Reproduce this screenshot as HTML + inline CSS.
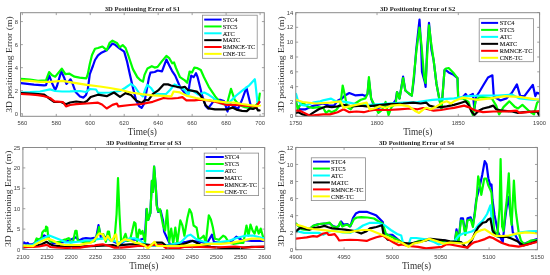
<!DOCTYPE html>
<html><head><meta charset="utf-8"><title>3D Positioning Error</title>
<style>html,body{margin:0;padding:0;background:#fff;width:550px;height:275px;overflow:hidden}svg{display:block}</style>
</head><body>
<svg width="550" height="275" viewBox="0 0 550 275">
<rect width="550" height="275" fill="#fff"/>
<clipPath id="cS1"><rect x="20.5" y="12.7" width="243.8" height="103.6"/></clipPath>
<clipPath id="cS2"><rect x="295.75" y="12.7" width="243.85" height="103.6"/></clipPath>
<clipPath id="cS3"><rect x="22.9" y="147.5" width="241.8" height="102"/></clipPath>
<clipPath id="cS4"><rect x="295.75" y="147.5" width="241.65" height="102.2"/></clipPath>
<g clip-path="url(#cS1)" fill="none" stroke-width="2.2" stroke-linejoin="round" stroke-linecap="round">
<polyline stroke="#0000ff" points="21,83.2 34,84.6 44,85.4 46,85.2 49.3,75.5 52.1,83.3 55.2,90 57,86 61.3,71.1 64.4,78.3 66.4,83.9 70.5,79.3 72.5,83.3 75.6,92 80,96.5 83.5,97.6 86,95 87.8,89.5 89.8,74.2 92.9,66 95,60 98,55.3 100.9,53.1 106.7,50.2 112.5,43.6 115.5,45.1 119.8,48.7 124.2,51.6 127.1,61.8 130,74.9 133,88 136,100 139,106 141.6,107.8 144,104 146,94 148.9,78 150.4,72.7 154.7,72 157.6,70.5 162,71.3 166.4,59.6 169.3,65.5 172,70.8 175.2,75.6 180,86.8 184.8,93.2 188,95.6 189.6,83.6 191.2,75.6 193.6,77.2 196,73.2 197.6,77.2 200,86.8 202.4,96.4 205.6,106 208,108.5 211.2,104.4 214.4,99.8 220.2,99.8 224,101 227.5,111.5 229.5,103 233,106 238,108.8 242,100 246.4,87.6 251,106.8 253,108.5 256,106 259.5,102"/>
<polyline stroke="#00ff00" points="21,78.8 30,79.5 38,80.8 46,80.4 49.1,72.1 52.1,75.2 55.2,76.7 61.8,68.6 65.4,74.2 69.5,73.7 74.5,76.7 79.6,77.7 86.3,78.3 87.8,74.2 89.8,64 92,55 95,48.7 98,48 102.4,46.5 106.7,50.2 109.6,42.9 112.5,40.7 116.9,42.9 119.8,47.3 122.7,45.1 125.6,48 128.5,56 132.9,69.1 137.3,77.1 140.2,80 143,81.6 144.5,74.9 147.5,68.4 151.8,66.2 154.7,67.6 157.6,66.9 162,61.1 166.4,56 169.3,58.2 172.2,63.3 174,62.5 176,68 180,77.2 184.8,80.4 187.2,82.8 189.6,71.6 192,72.4 194.4,67.6 197,68 200.8,70 204,77.2 208.8,86.8 215.2,96.4 219,101 223.1,104.2 227,104 231,88.8 234.7,99.8 239.1,104.9 244.9,107.1 252.2,108.5 256.5,104.9 258.6,102 259.8,93.6"/>
<polyline stroke="#00ffff" points="21,92.5 30,92.2 40,91.5 50.1,89.4 55,91 62,91.5 70,91.4 80,91 86,92 90,89 96,89.5 98,92.8 110,92.5 120,91 125,88 130.9,83.8 135,87 139,93 142.9,96.4 145,90 147.3,84.9 151,88 154.9,93.6 160,94 165.8,94.2 170,90 174.5,84.4 178,86 184.8,90 188,94.8 190,90 194,91.5 198.4,94.7 204.2,92.5 208.8,94.8 212.9,97.6 220.2,103.5 227.5,104.2 236.2,95.5 243.5,89.6 249.3,85.3 254.8,79.2 255.6,85 257.4,102"/>
<polyline stroke="#000000" points="21,93 30,93.5 38,94 44.2,94.7 50,99 54.4,102 61,102 66,104.2 70,102.5 76.2,101.5 84,102.5 87,101 90.7,97 98,94.7 106.7,96.2 114,92.5 120,96.9 125.5,93.1 131,95 136.4,100.7 141.8,102.9 145,100 148.4,100.2 152.7,94.2 158.2,90.4 163.6,84.4 168,84.4 171,85.5 176.8,86.8 181.6,87.6 184.8,86.8 188,90 192.8,90.8 196.8,91.6 200,94.8 203.2,99.6 205.6,105.2 208.8,108.4 215,109.3 227.5,109.3 232.4,107.6 236.4,109.6 242,110.8 246.8,111.2 250,108.4 253,109 256.4,107.6 258,110.4 259.6,110.4"/>
<polyline stroke="#ff0000" points="21,94 30,94.5 38,95.2 44.2,96.2 50,98 54.4,101.3 63,102 66,106.4 70,105 76.2,104.2 86.4,103.5 98,102.7 102,104.5 106.7,108.5 112.5,104.9 116.9,103.5 118.4,106.4 130,105 141.8,104 152.7,101.8 163.6,98 168,98.5 172,98.5 178,98 182.4,97.2 186.4,100.4 194.4,100.4 200.8,99.6 208.8,100.4 216,102 226,104.8 236.2,104.9 244.9,105.6 250,106 256.4,106.4 259.2,102"/>
<polyline stroke="#ffff00" points="21,80.5 30,80.9 40,81.8 50,81.8 62.3,80.8 74.5,82.8 86.8,84.9 100,86.5 110,88 120,89.8 130.9,92.5 141.8,94.2 152.7,95.3 163.6,95.8 171.3,96.4 173.6,91.5 180,92.4 186.4,95.6 196,98 204,99.6 216,101.2 226,102.4 234,102.6 242,104 250,105.2 258,106 260,105.5"/>
</g>
<rect x="20.5" y="12.7" width="243.8" height="103.6" fill="none" stroke="#8a8a8a" stroke-width="1"/>
<path d="M22.3 116.3v-2.4M22.3 12.7v2.4M56.27 116.3v-2.4M56.27 12.7v2.4M90.24 116.3v-2.4M90.24 12.7v2.4M124.21 116.3v-2.4M124.21 12.7v2.4M158.18 116.3v-2.4M158.18 12.7v2.4M192.15 116.3v-2.4M192.15 12.7v2.4M226.12 116.3v-2.4M226.12 12.7v2.4M260.09 116.3v-2.4M260.09 12.7v2.4M20.5 113.75h2.4M264.3 113.75h-2.4M20.5 90.71h2.4M264.3 90.71h-2.4M20.5 67.67h2.4M264.3 67.67h-2.4M20.5 44.63h2.4M264.3 44.63h-2.4M20.5 21.59h2.4M264.3 21.59h-2.4" stroke="#8a8a8a" stroke-width="0.8" fill="none"/>
<g font-family="Liberation Sans, Arial, sans-serif" font-size="5.85" fill="#404040">
<text x="22.3" y="125.4" text-anchor="middle">560</text>
<text x="56.27" y="125.4" text-anchor="middle">580</text>
<text x="90.24" y="125.4" text-anchor="middle">600</text>
<text x="124.21" y="125.4" text-anchor="middle">620</text>
<text x="158.18" y="125.4" text-anchor="middle">640</text>
<text x="192.15" y="125.4" text-anchor="middle">660</text>
<text x="226.12" y="125.4" text-anchor="middle">680</text>
<text x="260.09" y="125.4" text-anchor="middle">700</text>
<text x="17.9" y="115.85" text-anchor="end">0</text>
<text x="17.9" y="92.81" text-anchor="end">2</text>
<text x="17.9" y="69.77" text-anchor="end">4</text>
<text x="17.9" y="46.73" text-anchor="end">6</text>
<text x="17.9" y="23.69" text-anchor="end">8</text>
</g>
<text x="104.8" y="10.5" textLength="75.2" lengthAdjust="spacingAndGlyphs" font-family="Liberation Serif, serif" font-weight="bold" font-size="6.9" fill="#222">3D Positioning Error of S1</text>
<text x="142.4" y="135.3" text-anchor="middle" font-family="Liberation Serif, serif" font-size="9.3" fill="#333">Time(s)</text>
<text transform="translate(11.9 112.8) rotate(-90)" textLength="96.4" lengthAdjust="spacingAndGlyphs" font-family="Liberation Serif, serif" font-size="8.7" fill="#333">3D positioning Error (m)</text>
<rect x="202.4" y="15.2" width="54.8" height="43.1" fill="#fff" stroke="#8a8a8a" stroke-width="0.8"/>
<line x1="204.2" x2="221.6" y1="19.6" y2="19.6" stroke="#0000ff" stroke-width="2.0"/>
<text x="222.7" y="21.8" font-family="Liberation Serif, serif" font-size="6.3" fill="#1a1a1a" stroke="#1a1a1a" stroke-width="0.12">STC4</text>
<line x1="204.2" x2="221.6" y1="26.45" y2="26.45" stroke="#00ff00" stroke-width="2.0"/>
<text x="222.7" y="28.65" font-family="Liberation Serif, serif" font-size="6.3" fill="#1a1a1a" stroke="#1a1a1a" stroke-width="0.12">STC5</text>
<line x1="204.2" x2="221.6" y1="33.3" y2="33.3" stroke="#00ffff" stroke-width="2.0"/>
<text x="222.7" y="35.5" font-family="Liberation Serif, serif" font-size="6.3" fill="#1a1a1a" stroke="#1a1a1a" stroke-width="0.12">ATC</text>
<line x1="204.2" x2="221.6" y1="40.15" y2="40.15" stroke="#000000" stroke-width="2.0"/>
<text x="222.7" y="42.35" font-family="Liberation Serif, serif" font-size="6.3" fill="#1a1a1a" stroke="#1a1a1a" stroke-width="0.12">MATC</text>
<line x1="204.2" x2="221.6" y1="47" y2="47" stroke="#ff0000" stroke-width="2.0"/>
<text x="222.7" y="49.2" font-family="Liberation Serif, serif" font-size="6.3" fill="#1a1a1a" stroke="#1a1a1a" stroke-width="0.12">RMNCE-TC</text>
<line x1="204.2" x2="221.6" y1="53.85" y2="53.85" stroke="#ffff00" stroke-width="2.0"/>
<text x="222.7" y="56.05" font-family="Liberation Serif, serif" font-size="6.3" fill="#1a1a1a" stroke="#1a1a1a" stroke-width="0.12">CNE-TC</text>
<g clip-path="url(#cS2)" fill="none" stroke-width="2.2" stroke-linejoin="round" stroke-linecap="round">
<polyline stroke="#0000ff" points="296,103.5 299.8,109.3 305.6,109.3 311.5,106.4 317.3,104.9 323.1,103.5 328.9,105.6 334,105.6 337.6,100.8 342,98.5 344.9,95.5 349.3,93 355.1,95.3 362.4,94.8 365.3,96 367.5,94 368.9,80 371.1,98.4 374,106 378,108 385,106 391.5,106 395.8,100 397,92 399.5,98.5 403.1,76.7 405.3,90.5 408.9,93.5 411.8,95.6 414,78 416.2,50 419.5,19.5 421.3,50 422,72 424.9,82.5 425.6,86.9 427.1,50 429,22.8 431.5,50 433.6,60 436.5,84 439.5,100 441.5,108.5 444.5,70.2 445.1,69.5 448.7,72.4 453.1,74.5 457.5,78.2 458.2,98 462,98 465.6,94 467,96 469,96 472.9,94 474.4,109.3 476,97 479.3,92 483.6,84.7 488,77.5 492.4,75.3 493.8,96.4 497,98.5 500.5,100.5 506.4,98.4 511.9,92.7 516.9,84.4 520.2,96.1 524.4,96.1 532.8,84.8 535.3,96.1 537,92.7 539.5,93.6"/>
<polyline stroke="#00ff00" points="296,99.8 297.6,109.3 299.8,105.6 302.7,102.7 305.6,104.9 308.5,107.1 312.9,107.8 318.7,107.1 323.1,107.8 326,112.9 328.9,110.7 331.8,112.2 336.2,110 340.5,104.2 342.7,85.5 344.9,95.5 347.1,107.1 350.7,109.3 355.1,103.5 360.9,99.8 365.3,98.4 367.5,94 368.9,77.1 371.1,98.4 374,104 378.4,112.9 382,110 385.6,102 388.5,115.1 391.5,107.1 395.8,103.5 397,92 399.5,98.5 403.1,78 405.3,90.5 408.9,93.5 411.8,95.6 414,74.5 416.5,50 419.5,27.5 421.5,45 424.2,77.5 425.6,83 427.5,50 429,25.3 431,42 433.6,60 436.5,84 439.5,100 441.5,108.5 444.5,70.2 446,68.5 448.7,68 453.1,72.5 457.5,78.2 458.2,98.4 462.7,98.4 468.5,102 472.9,115.1 475.8,99.8 480,96.9 491.8,98.4 496.2,105.6 499.1,114.4 503.5,107.1 509.3,101.3 515.1,107.1 518,108.5 522.4,104.9 529.6,111.5 534,114.4 537,103 539.5,100"/>
<polyline stroke="#00ffff" points="296,93.8 297.6,99.6 301.3,104.9 305.6,105.6 312.9,102.7 320.2,101.3 323.1,100.4 331.1,98.6 336.2,101.5 342,101.3 349.3,102.7 359.5,104.9 374,104.5 388.5,103.5 403.1,102.7 417.6,102 432.2,99.8 454,98.4 468.5,96.2 483.1,95.5 497.6,95.5 512.2,94.7 519.5,98.4 534,99.8 539.5,99.5"/>
<polyline stroke="#000000" points="296,112.9 298.4,112.2 302.7,114.4 308.5,115.8 312.9,112.9 318.7,109.3 326,106.4 331.8,107.1 337.6,106.4 343.5,104.9 352.2,106.4 360.9,105.6 366.7,106.4 374,105.6 388.5,104.2 403.1,103.5 413.3,102.7 420.5,103.5 426.4,102.7 429.3,105.6 435.1,107.1 440.9,107.1 446.7,106.4 454,104.9 461.3,102.7 465.6,101.3 468.5,104.9 471.5,111.5 474.4,115.1 478.7,110.7 483.1,108.5 488.9,107.1 493.3,105.6 496.2,109.3 502,110.7 512.2,111.5 518,112.9 524,112.2 534,111.5 537.5,112 539.5,116"/>
<polyline stroke="#ff0000" points="296,110.7 300,110.7 304.2,112.9 310,115.8 315.8,115.1 323.1,114.4 330,114.4 337.6,112.2 343.5,109.3 349.3,112.2 356.5,111.5 363.8,112.2 369.6,110.7 374,110 388.5,110 398.7,109.3 410.4,108.5 417.6,109.3 423,108 429,109.5 433.6,110.7 440.9,110 449.6,108.5 454,107.8 464.2,105.6 468.5,107.1 475.8,110.7 483.1,112.2 493.3,111.5 504.9,111.5 516.5,110.7 519.5,112.9 527,112.2 534,111.5 539.5,111"/>
<polyline stroke="#ffff00" points="296,99.8 302.7,102 315.8,103.5 330.4,102.7 340.5,101.3 343.5,107.8 349.3,106.4 359.5,104.2 366.7,102.7 369.6,109.3 374,108.5 379.8,106.4 385.5,107.8 391.5,105.6 400.2,104.9 408.9,106.4 414.7,110.7 419.1,112.9 423.5,109.3 426.4,107.8 430.7,109.3 436.5,106.4 442.4,102.7 446.7,101.3 451,103.5 454,101.3 462.7,97.6 468.5,98.5 477.3,99.8 490.4,98.4 504.9,96.2 519.5,96.9 534,99.1 539.5,99.5"/>
</g>
<rect x="295.75" y="12.7" width="243.85" height="103.6" fill="none" stroke="#8a8a8a" stroke-width="1"/>
<path d="M295.75 116.3v-2.4M295.75 12.7v2.4M377.03 116.3v-2.4M377.03 12.7v2.4M458.31 116.3v-2.4M458.31 12.7v2.4M539.59 116.3v-2.4M539.59 12.7v2.4M295.75 116.3h2.4M539.6 116.3h-2.4M295.75 101.47h2.4M539.6 101.47h-2.4M295.75 86.64h2.4M539.6 86.64h-2.4M295.75 71.82h2.4M539.6 71.82h-2.4M295.75 56.99h2.4M539.6 56.99h-2.4M295.75 42.16h2.4M539.6 42.16h-2.4M295.75 27.33h2.4M539.6 27.33h-2.4M295.75 12.5h2.4M539.6 12.5h-2.4" stroke="#8a8a8a" stroke-width="0.8" fill="none"/>
<g font-family="Liberation Sans, Arial, sans-serif" font-size="5.85" fill="#404040">
<text x="295.75" y="125.4" text-anchor="middle">1750</text>
<text x="377.03" y="125.4" text-anchor="middle">1800</text>
<text x="458.31" y="125.4" text-anchor="middle">1850</text>
<text x="539.59" y="125.4" text-anchor="middle">1900</text>
<text x="293.15" y="118.4" text-anchor="end">0</text>
<text x="293.15" y="103.57" text-anchor="end">2</text>
<text x="293.15" y="88.74" text-anchor="end">4</text>
<text x="293.15" y="73.92" text-anchor="end">6</text>
<text x="293.15" y="59.09" text-anchor="end">8</text>
<text x="293.15" y="44.26" text-anchor="end">10</text>
<text x="293.15" y="29.43" text-anchor="end">12</text>
<text x="293.15" y="14.6" text-anchor="end">14</text>
</g>
<text x="380.07" y="10.5" textLength="75.2" lengthAdjust="spacingAndGlyphs" font-family="Liberation Serif, serif" font-weight="bold" font-size="6.9" fill="#222">3D Positioning Error of S2</text>
<text x="417.68" y="135.3" text-anchor="middle" font-family="Liberation Serif, serif" font-size="9.3" fill="#333">Time(s)</text>
<text transform="translate(283.9 112.8) rotate(-90)" textLength="96.4" lengthAdjust="spacingAndGlyphs" font-family="Liberation Serif, serif" font-size="8.7" fill="#333">3D positioning Error (m)</text>
<rect x="479.2" y="18.7" width="54.3" height="43" fill="#fff" stroke="#8a8a8a" stroke-width="0.8"/>
<line x1="481.1" x2="498.1" y1="22.9" y2="22.9" stroke="#0000ff" stroke-width="2.0"/>
<text x="499.8" y="25.1" font-family="Liberation Serif, serif" font-size="6.3" fill="#1a1a1a" stroke="#1a1a1a" stroke-width="0.12">STC4</text>
<line x1="481.1" x2="498.1" y1="29.88" y2="29.88" stroke="#00ff00" stroke-width="2.0"/>
<text x="499.8" y="32.08" font-family="Liberation Serif, serif" font-size="6.3" fill="#1a1a1a" stroke="#1a1a1a" stroke-width="0.12">STC5</text>
<line x1="481.1" x2="498.1" y1="36.86" y2="36.86" stroke="#00ffff" stroke-width="2.0"/>
<text x="499.8" y="39.06" font-family="Liberation Serif, serif" font-size="6.3" fill="#1a1a1a" stroke="#1a1a1a" stroke-width="0.12">ATC</text>
<line x1="481.1" x2="498.1" y1="43.84" y2="43.84" stroke="#000000" stroke-width="2.0"/>
<text x="499.8" y="46.04" font-family="Liberation Serif, serif" font-size="6.3" fill="#1a1a1a" stroke="#1a1a1a" stroke-width="0.12">MATC</text>
<line x1="481.1" x2="498.1" y1="50.82" y2="50.82" stroke="#ff0000" stroke-width="2.0"/>
<text x="499.8" y="53.02" font-family="Liberation Serif, serif" font-size="6.3" fill="#1a1a1a" stroke="#1a1a1a" stroke-width="0.12">RMNCE-TC</text>
<line x1="481.1" x2="498.1" y1="57.8" y2="57.8" stroke="#ffff00" stroke-width="2.0"/>
<text x="499.8" y="60" font-family="Liberation Serif, serif" font-size="6.3" fill="#1a1a1a" stroke="#1a1a1a" stroke-width="0.12">CNE-TC</text>
<g clip-path="url(#cS3)" fill="none" stroke-width="2.2" stroke-linejoin="round" stroke-linecap="round">
<polyline stroke="#0000ff" points="23,243.7 24,242.5 26,244 27.6,242.8 29,244.5 33,244 36.6,242 42.3,237 44.2,235.4 47,237.5 50,240 53.1,243.7 56,243 60,242.5 65.9,241.8 70,240 76,237.3 79.1,240.5 82.9,238.6 86,238.2 90.6,238.6 94.4,237.9 96,238.4 98.5,225.1 101,238.4 106,236.8 112.7,241 117.7,243.5 121.1,243.5 124.4,241 129.4,240.1 134.5,239.3 139.5,240.1 143.7,238.4 145,237 146.5,209.1 148.2,220 150.4,212.9 151.9,180.8 153,192 154.1,166.5 155.9,188.7 157,206 158.2,212 160.6,210.5 163.1,221 164.1,231.6 170.2,244.8 180.3,242.8 186.4,241.8 190.5,240.8 200.7,241.8 206.8,243.8 211.9,234.7 213.9,241.8 221,242.8 231.2,241.8 236.3,236.7 241.4,239.8 251.6,240.8 266,240.8"/>
<polyline stroke="#00ff00" points="23,246 30,246.5 34.5,244 36.6,238.5 39,239.5 41.5,238 42.3,232.5 44.2,230.3 45.5,231 46.1,226.5 47.3,227.5 48,235 49.5,240.5 51.1,241.5 56,242 60,241.8 64.2,239.6 65.1,239.8 68.5,238.2 69.5,238.6 70.5,242.5 73,242 75.3,230.9 76.6,230.9 77.8,240.5 83,242 90,242 94.7,241.1 98.2,231.6 99,227 100,233.8 103.3,234.1 105.9,241.8 107.8,231.6 109,231.6 110.3,240.5 113,240.5 114.8,236 116.6,214 118,178.2 119.5,214 121.1,241.1 123,240 125.5,233.8 127.5,241 130,240 132,232 134.2,222.2 135.5,223.5 137.1,241.1 139.3,229.5 141,233.8 142.5,231 145.1,242.5 146.8,208.8 148.2,220 150.4,212.9 151.9,180.8 153,192 154.1,166.5 155.9,188.7 156.5,205 158.2,211.5 160,209.2 163.1,225.5 165.1,230.6 167.1,210.3 169.2,241.8 171.2,228.6 173.2,243.8 175.3,227.6 177.3,242.8 180.3,220.4 182.4,225.5 184.4,235.7 187.5,217.4 189.5,209.2 191.5,213.3 193.6,225.5 196.6,227.6 198.7,239.8 201.7,237.7 203.7,235.7 205.8,242.8 208.8,215.3 210.9,219.4 212.9,227.6 214.9,238.7 219,239.8 223.1,235.7 225.1,236.7 229.2,242.8 233.2,243.8 239.3,242.8 243.4,242.8 246.5,225.5 248.5,235.7 250.5,224.5 252.6,230.6 254.6,233.7 256.6,226.5 258.7,233.7 260.7,228.6 262.7,235.7 264.8,239.8 266,238.7"/>
<polyline stroke="#00ffff" points="23,245.6 33,245 36.6,242.4 42.9,238.6 49.3,235.4 55.7,237.9 62,240.5 65.9,242.4 72,242.4 80,241.5 85,240.5 91.8,240.5 96,239.3 102.7,238.4 109.4,239.3 114.4,241 121.1,242.6 126.1,240.1 129.4,238.4 134.5,238.4 139.5,240.1 142.8,242.6 146.2,244.3 152.9,246 162.1,246 180.3,242.8 187.5,235.7 190.5,234.7 195.6,238.7 200.7,240.8 210.9,243.8 221,241.8 229.2,240.8 237.3,237.7 245.5,235.7 253.6,235.7 261.7,237.7 266,238.7"/>
<polyline stroke="#000000" points="23,247.5 33,246.5 41.7,244.3 46.8,241.8 49.5,243.8 53,245.5 60,246.2 70,246.5 80.2,246.5 90,246.2 96,246 112.7,245.1 116.1,246 121.1,245.1 129.4,244.3 142.8,244.3 151.2,245.1 156.2,242.6 162.1,242.6 166.1,245.9 176.3,245.9 184.4,243.8 192.6,240.8 196.6,242.8 200.7,244.8 210.9,246.9 221,247.9 231.2,247.9 241.4,247.9 251.6,246.9 266,246.9"/>
<polyline stroke="#ff0000" points="23,247 33,247 39,246.5 42.9,245.6 46.8,244.9 50.5,247 56,247.5 65.6,248 80.2,247.6 88.9,246.2 94.7,245.5 96,245.1 102.7,244.3 109.4,246 114.4,247.6 121.1,247.6 129.4,246.8 137.8,246 146.2,246 152.9,245.1 162.1,245.1 166.4,248.4 180,248 184,247 200,247 215,247.5 225,247 235,246.5 245,247.5 255,247 265,246.5"/>
<polyline stroke="#ffff00" points="23,245.6 33,246.2 36.6,243.7 42.9,240.5 48,238.6 53,240.5 58.2,243.7 64.6,245 80.2,244.8 85.5,243.7 90.4,243 93.1,241.1 96,237.6 99.3,233.4 102.7,234.3 105.2,240.1 107.7,235.9 109.4,238.4 111.9,241 114.4,235.9 116.1,234.3 117.7,245.1 121.1,241.8 124.4,239.3 129.4,240.1 134.5,242.6 139.5,243.5 144.5,245.1 147.8,248.5 151.2,245.1 154.5,241.8 157,246 162.1,246 180.3,245.9 200.7,244.8 210.9,243.8 221,243.8 231.2,242.8 241.4,240.8 251.6,238.7 259.7,238.7 266,240.8"/>
</g>
<rect x="22.9" y="147.5" width="241.8" height="102" fill="none" stroke="#8a8a8a" stroke-width="1"/>
<path d="M22.9 249.5v-2.4M22.9 147.5v2.4M47.08 249.5v-2.4M47.08 147.5v2.4M71.26 249.5v-2.4M71.26 147.5v2.4M95.44 249.5v-2.4M95.44 147.5v2.4M119.62 249.5v-2.4M119.62 147.5v2.4M143.8 249.5v-2.4M143.8 147.5v2.4M167.98 249.5v-2.4M167.98 147.5v2.4M192.16 249.5v-2.4M192.16 147.5v2.4M216.34 249.5v-2.4M216.34 147.5v2.4M240.52 249.5v-2.4M240.52 147.5v2.4M264.7 249.5v-2.4M264.7 147.5v2.4M22.9 249.5h2.4M264.7 249.5h-2.4M22.9 229.1h2.4M264.7 229.1h-2.4M22.9 208.7h2.4M264.7 208.7h-2.4M22.9 188.3h2.4M264.7 188.3h-2.4M22.9 167.9h2.4M264.7 167.9h-2.4M22.9 147.5h2.4M264.7 147.5h-2.4" stroke="#8a8a8a" stroke-width="0.8" fill="none"/>
<g font-family="Liberation Sans, Arial, sans-serif" font-size="5.85" fill="#404040">
<text x="22.9" y="258.6" text-anchor="middle">2100</text>
<text x="47.08" y="258.6" text-anchor="middle">2150</text>
<text x="71.26" y="258.6" text-anchor="middle">2200</text>
<text x="95.44" y="258.6" text-anchor="middle">2250</text>
<text x="119.62" y="258.6" text-anchor="middle">2300</text>
<text x="143.8" y="258.6" text-anchor="middle">2350</text>
<text x="167.98" y="258.6" text-anchor="middle">2400</text>
<text x="192.16" y="258.6" text-anchor="middle">2450</text>
<text x="216.34" y="258.6" text-anchor="middle">2500</text>
<text x="240.52" y="258.6" text-anchor="middle">2550</text>
<text x="264.7" y="258.6" text-anchor="middle">2600</text>
<text x="20.3" y="251.6" text-anchor="end">0</text>
<text x="20.3" y="231.2" text-anchor="end">5</text>
<text x="20.3" y="210.8" text-anchor="end">10</text>
<text x="20.3" y="190.4" text-anchor="end">15</text>
<text x="20.3" y="170" text-anchor="end">20</text>
<text x="20.3" y="149.6" text-anchor="end">25</text>
</g>
<text x="106.2" y="145.3" textLength="75.2" lengthAdjust="spacingAndGlyphs" font-family="Liberation Serif, serif" font-weight="bold" font-size="6.9" fill="#222">3D Positioning Error of S3</text>
<text x="143.8" y="268.5" text-anchor="middle" font-family="Liberation Serif, serif" font-size="9.3" fill="#333">Time(s)</text>
<text transform="translate(10.5 246.95) rotate(-90)" textLength="96.4" lengthAdjust="spacingAndGlyphs" font-family="Liberation Serif, serif" font-size="8.7" fill="#333">3D positioning Error (m)</text>
<rect x="204.2" y="153.1" width="54.4" height="42.5" fill="#fff" stroke="#8a8a8a" stroke-width="0.8"/>
<line x1="205.7" x2="223.8" y1="157" y2="157" stroke="#0000ff" stroke-width="2.0"/>
<text x="224.4" y="159.2" font-family="Liberation Serif, serif" font-size="6.3" fill="#1a1a1a" stroke="#1a1a1a" stroke-width="0.12">STC4</text>
<line x1="205.7" x2="223.8" y1="163.98" y2="163.98" stroke="#00ff00" stroke-width="2.0"/>
<text x="224.4" y="166.18" font-family="Liberation Serif, serif" font-size="6.3" fill="#1a1a1a" stroke="#1a1a1a" stroke-width="0.12">STC5</text>
<line x1="205.7" x2="223.8" y1="170.96" y2="170.96" stroke="#00ffff" stroke-width="2.0"/>
<text x="224.4" y="173.16" font-family="Liberation Serif, serif" font-size="6.3" fill="#1a1a1a" stroke="#1a1a1a" stroke-width="0.12">ATC</text>
<line x1="205.7" x2="223.8" y1="177.94" y2="177.94" stroke="#000000" stroke-width="2.0"/>
<text x="224.4" y="180.14" font-family="Liberation Serif, serif" font-size="6.3" fill="#1a1a1a" stroke="#1a1a1a" stroke-width="0.12">MATC</text>
<line x1="205.7" x2="223.8" y1="184.92" y2="184.92" stroke="#ff0000" stroke-width="2.0"/>
<text x="224.4" y="187.12" font-family="Liberation Serif, serif" font-size="6.3" fill="#1a1a1a" stroke="#1a1a1a" stroke-width="0.12">RMNCE-TC</text>
<line x1="205.7" x2="223.8" y1="191.9" y2="191.9" stroke="#ffff00" stroke-width="2.0"/>
<text x="224.4" y="194.1" font-family="Liberation Serif, serif" font-size="6.3" fill="#1a1a1a" stroke="#1a1a1a" stroke-width="0.12">CNE-TC</text>
<g clip-path="url(#cS4)" fill="none" stroke-width="2.2" stroke-linejoin="round" stroke-linecap="round">
<polyline stroke="#0000ff" points="296,224 301,228 306,229.5 310,228.5 314.4,225.3 317,224.6 319.4,224 325,223.5 330,223.5 333,226 336,227 338.5,226.5 341.1,221.5 343.5,224.6 347.4,224 350.4,226.4 353,218 355.8,213.6 359.5,211.8 366.7,211.8 374,214.5 376.4,215.6 382.8,222 384.4,233.2 387.6,234.8 392.4,234.8 397.2,238.8 402,242.8 408.4,244.4 415,243 422.8,240.4 429.2,238.8 437.2,240.4 443.6,240.4 450,242 454.7,242.3 456.5,229.3 458.5,241 460.9,218.4 463,218.4 465.3,233.7 467.5,218.4 470.7,217.3 472.9,225 474.5,215 476.2,200 479.2,188.7 482.3,174.4 484.7,161.2 486.5,164 488.4,178.5 490.4,185.6 491.5,184.5 492.5,200 494.5,215 498,232 502.7,242.3 505,220 508,196.8 511.6,220.5 512.8,232.4 515.8,236 520.2,244.5 526,243 533.2,240.2 537,239"/>
<polyline stroke="#00ff00" points="296,223.4 299,226.5 301.6,229.1 304.2,229.7 309,229.7 313.1,225.9 319.4,224 325.8,223.4 329.6,222.7 332.2,225.9 336,227.8 338.5,226 340.4,222.1 342.3,226.5 344.9,225.3 347.4,224.6 349.5,226.5 351.5,224 354,219 357,217.5 361.2,217.2 367.6,217.5 374,218.5 378,221 382.8,223.6 386,234 392.4,237.2 398.8,240.4 405.2,243.6 410,244.4 418,241.2 427.6,239.6 434,240.4 441,241.2 450,242.5 454.7,242 456.5,232 458.5,242 460.9,220.5 463,221 465.3,235 467.5,220.5 470.7,219.5 472.9,227 474.8,214 476.5,200 478.2,176.4 479.6,183 481.3,194.8 484.3,178.5 486.3,178.5 488.4,185.6 490.5,190 491.5,192.7 494,229.3 495,232.4 497.5,234 499.6,208 500.6,159.1 502.1,226.5 503.5,231 505,215 506.8,200 508.8,173.4 510.5,215 511.6,225 513.9,180.5 515.5,208 516.3,215 518.7,232.4 521,240.7 524.5,244.5 530.5,240.7 537,240"/>
<polyline stroke="#00ffff" points="296,230.4 299,231.6 304.2,232.9 313.1,232.9 319.4,232.9 323.3,234.8 327.1,232.3 330.9,231 336,231 342.3,232.3 350,232.9 354,230.9 358,229 363,225.5 370,222.8 378,222.8 384.4,225.2 390.8,230 397.2,234 401.2,235.6 402.8,242 408.4,245.2 410.8,238 416.4,238 422,238.8 427.6,239.6 434,242 438.8,244.4 443.6,243 446,242.3 454.4,241.3 458.7,235.8 463,233.5 467.5,232.6 471.8,231.5 475.1,229.3 478.4,224.9 482.8,220.6 487.1,214 490.4,205.3 492.9,233.6 498.3,236.9 511.4,235.8 521,232.4 528.9,231.4 537,231.2"/>
<polyline stroke="#000000" points="296,231.6 298,229.5 300.4,227.8 304.2,228.4 309.3,229.7 313.1,228.4 319.4,227.2 324.5,225.9 328.3,227.2 332.2,228.4 338.5,229 344.9,229.7 350,230.3 354.8,231 361.2,233.6 366,231.6 370,228.4 376.4,227 382,225.2 383.6,234.8 387.6,239.6 394,240.4 402,242.8 410,243.6 418,242 426,240.4 430.8,238.8 437.6,239.6 445.2,240.4 450,241.3 461,242 465.3,246.8 467.5,247.5 471.8,240.2 475.1,232.6 478.4,227.1 482.8,222.8 486,222 488.2,219.5 490.4,218.4 492.6,230.4 495.9,235.9 500.5,236.9 507,236.9 511.4,238.5 516.3,240.7 523.4,245.4 530.5,243.5 537,241"/>
<polyline stroke="#ff0000" points="296,238.6 301.6,238 306.7,237.4 313.1,236.1 316.9,236.7 319.4,235.4 323.3,233.5 327.1,232.9 328.5,234.8 330.9,234.8 334.7,234.2 337.3,237.4 339.2,240.5 345,240 350,239.9 357.6,240 366.7,240.9 370,239.6 376.4,237.2 382.8,235.6 387.6,238.8 394,242.8 398.8,245.2 402,244.5 408.4,246 418,246.8 426,248.4 434,247.6 442,246.8 446,244.5 450,244.5 463.1,246.8 467.5,247.6 470.7,244.6 474,242.4 478.4,241.3 484.9,239.1 489.3,236.9 493,238 496.9,240.2 502,243 509.2,245.4 518.7,246.6 526,245 533.2,243 537,242"/>
<polyline stroke="#ffff00" points="296,224.6 301.6,226 306.7,227.8 313.1,229 319.4,229.7 325.8,230.4 332.2,231 338.5,231.6 344.9,232.3 350,232.3 354.8,231 362.8,230 370,230 378,233.2 386,236.4 394,240.4 402,242.8 408.4,246.8 413.2,243.6 421.2,242 429.2,238.8 437.2,241.2 443.6,243.6 450,242.5 463.1,243.5 467.5,242.3 471.8,239.1 476.2,232.6 480.6,230.4 484.9,229.3 488.2,231.5 491.5,233.7 495.9,235.9 502.7,236 509,235.5 516.3,233.6 525.8,232.4 533.2,233 537,233.5"/>
</g>
<rect x="295.75" y="147.5" width="241.65" height="102.2" fill="none" stroke="#8a8a8a" stroke-width="1"/>
<path d="M295.75 249.7v-2.4M295.75 147.5v2.4M344.08 249.7v-2.4M344.08 147.5v2.4M392.41 249.7v-2.4M392.41 147.5v2.4M440.74 249.7v-2.4M440.74 147.5v2.4M489.07 249.7v-2.4M489.07 147.5v2.4M537.4 249.7v-2.4M537.4 147.5v2.4M295.75 249.7h2.4M537.4 249.7h-2.4M295.75 232.65h2.4M537.4 232.65h-2.4M295.75 215.6h2.4M537.4 215.6h-2.4M295.75 198.55h2.4M537.4 198.55h-2.4M295.75 181.5h2.4M537.4 181.5h-2.4M295.75 164.45h2.4M537.4 164.45h-2.4M295.75 147.4h2.4M537.4 147.4h-2.4" stroke="#8a8a8a" stroke-width="0.8" fill="none"/>
<g font-family="Liberation Sans, Arial, sans-serif" font-size="5.85" fill="#404040">
<text x="295.75" y="258.8" text-anchor="middle">4900</text>
<text x="344.08" y="258.8" text-anchor="middle">4950</text>
<text x="392.41" y="258.8" text-anchor="middle">5000</text>
<text x="440.74" y="258.8" text-anchor="middle">5050</text>
<text x="489.07" y="258.8" text-anchor="middle">5100</text>
<text x="537.4" y="258.8" text-anchor="middle">5150</text>
<text x="293.15" y="251.8" text-anchor="end">0</text>
<text x="293.15" y="234.75" text-anchor="end">2</text>
<text x="293.15" y="217.7" text-anchor="end">4</text>
<text x="293.15" y="200.65" text-anchor="end">6</text>
<text x="293.15" y="183.6" text-anchor="end">8</text>
<text x="293.15" y="166.55" text-anchor="end">10</text>
<text x="293.15" y="149.5" text-anchor="end">12</text>
</g>
<text x="378.97" y="145.3" textLength="75.2" lengthAdjust="spacingAndGlyphs" font-family="Liberation Serif, serif" font-weight="bold" font-size="6.9" fill="#222">3D Positioning Error of S4</text>
<text x="416.57" y="268.7" text-anchor="middle" font-family="Liberation Serif, serif" font-size="9.3" fill="#333">Time(s)</text>
<text transform="translate(283.6 246.8) rotate(-90)" textLength="96.4" lengthAdjust="spacingAndGlyphs" font-family="Liberation Serif, serif" font-size="8.7" fill="#333">3D positioning Error (m)</text>
<rect x="311.3" y="157.8" width="54.1" height="42.8" fill="#fff" stroke="#8a8a8a" stroke-width="0.8"/>
<line x1="313" x2="329.9" y1="161.6" y2="161.6" stroke="#0000ff" stroke-width="2.0"/>
<text x="331" y="163.8" font-family="Liberation Serif, serif" font-size="6.3" fill="#1a1a1a" stroke="#1a1a1a" stroke-width="0.12">STC4</text>
<line x1="313" x2="329.9" y1="168.55" y2="168.55" stroke="#00ff00" stroke-width="2.0"/>
<text x="331" y="170.75" font-family="Liberation Serif, serif" font-size="6.3" fill="#1a1a1a" stroke="#1a1a1a" stroke-width="0.12">STC5</text>
<line x1="313" x2="329.9" y1="175.5" y2="175.5" stroke="#00ffff" stroke-width="2.0"/>
<text x="331" y="177.7" font-family="Liberation Serif, serif" font-size="6.3" fill="#1a1a1a" stroke="#1a1a1a" stroke-width="0.12">ATC</text>
<line x1="313" x2="329.9" y1="182.45" y2="182.45" stroke="#000000" stroke-width="2.0"/>
<text x="331" y="184.65" font-family="Liberation Serif, serif" font-size="6.3" fill="#1a1a1a" stroke="#1a1a1a" stroke-width="0.12">MATC</text>
<line x1="313" x2="329.9" y1="189.4" y2="189.4" stroke="#ff0000" stroke-width="2.0"/>
<text x="331" y="191.6" font-family="Liberation Serif, serif" font-size="6.3" fill="#1a1a1a" stroke="#1a1a1a" stroke-width="0.12">RMNCE-TC</text>
<line x1="313" x2="329.9" y1="196.35" y2="196.35" stroke="#ffff00" stroke-width="2.0"/>
<text x="331" y="198.55" font-family="Liberation Serif, serif" font-size="6.3" fill="#1a1a1a" stroke="#1a1a1a" stroke-width="0.12">CNE-TC</text>
</svg>
</body></html>
